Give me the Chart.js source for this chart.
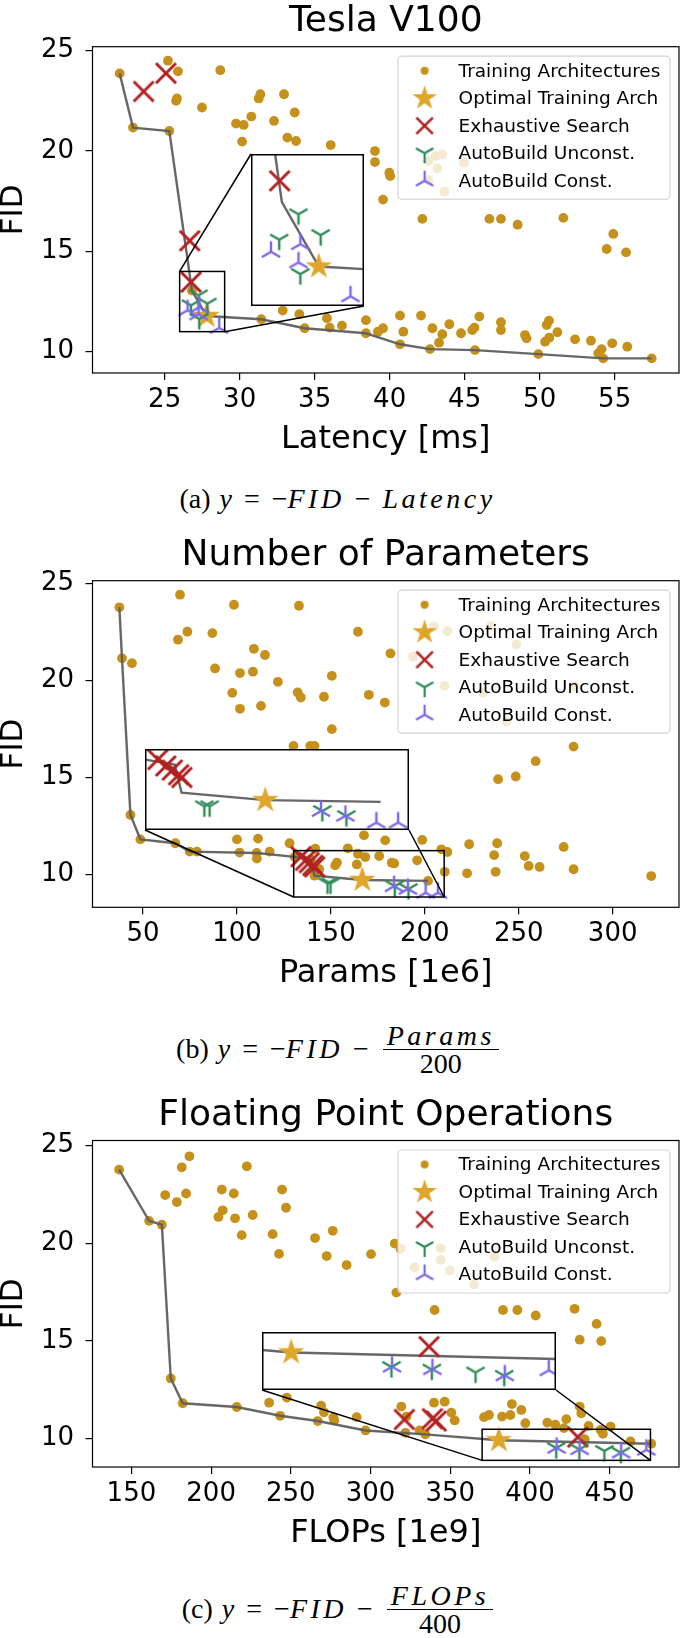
<!DOCTYPE html>
<html>
<head>
<meta charset="utf-8">
<script src="https://cdn.jsdelivr.net/npm/chart.js@4.4.1/dist/chart.umd.min.js"></script>
<style>
  body { margin: 0; background: #fff; width: 681px; height: 1638px; position: relative; overflow: hidden; }
  canvas { position: absolute; left: 0; }
  .cap { position: absolute; left: -3px; width: 681px; display: flex; justify-content: center; align-items: center;
         font-family: "Liberation Serif"; font-size: 28px; line-height: 30px; color: #000; }
  .cap i { font-style: italic; }
  .w { letter-spacing: 3.5px; }
  .lbl { margin-right: 9px; }
  .rel { margin: 0 12px; }
  .bin { margin: 0 12px 0 10px; }
  .frac { display: inline-flex; flex-direction: column; align-items: center; margin-left: 2px; }
  .num { border-bottom: 1.3px solid #000; padding: 0 4px; line-height: 27px; }
  .den { line-height: 27px; }
</style>
</head>
<body>
<canvas id="c1" width="681" height="455" style="top:0px"></canvas>
<canvas id="c2" width="681" height="469" style="top:520px"></canvas>
<canvas id="c3" width="681" height="469" style="top:1080px"></canvas>

<div class="cap" style="top:484px;height:30px">
  <span class="lbl">(a)</span><i>y</i><span class="rel">=</span><span>−</span><i class="w">FID</i><span class="bin">−</span><i class="w">Latency</i>
</div>
<div class="cap" style="top:1021px;height:56px">
  <span class="lbl">(b)</span><i>y</i><span class="rel">=</span><span>−</span><i class="w">FID</i><span class="bin">−</span>
  <span class="frac"><span class="num"><i class="w">Params</i></span><span class="den">200</span></span>
</div>
<div class="cap" style="top:1581px;height:56px">
  <span class="lbl">(c)</span><i>y</i><span class="rel">=</span><span>−</span><i class="w">FID</i><span class="bin">−</span>
  <span class="frac"><span class="num"><i class="w">FLOPs</i></span><span class="den">400</span></span>
</div>

<script>
// ------------------------
// Data
// ------------------------

const fidTicks = [10, 15, 20, 25];

// Tesla V100: latency [ms] vs FID
const latencyTicks = [25, 30, 35, 40, 45, 50, 55];
const latencyArchs = [
  [22.0, 23.87], [22.89, 21.17], [25.31, 21.0], [25.22, 24.5], [25.89, 23.97], [28.71, 24.03], [25.82, 22.62],
  [25.76, 22.5], [27.49, 22.17], [31.38, 22.83], [31.27, 22.62], [32.96, 22.83], [33.67, 21.92], [30.78, 21.72],
  [29.76, 21.37], [30.27, 21.3], [32.29, 21.5], [30.16, 20.47], [33.18, 20.67], [33.76, 20.5], [36.07, 20.3],
  [39.02, 20.0], [39.02, 19.45], [39.98, 18.92], [40.04, 18.75], [39.56, 17.58],
  [42.58, 19.5], [43.07, 19.75], [43.51, 19.83], [43.18, 19.13], [44.96, 19.42], [42.58, 18.55], [43.65, 17.98],
  [42.18, 16.62], [46.65, 16.62], [47.42, 16.62], [48.53, 16.33], [51.58, 16.67], [54.91, 15.87], [54.47, 15.12],
  [55.76, 14.95],
  [26.82, 13.05], [27.8, 11.78], [31.44, 11.62], [32.87, 12.05], [33.98, 11.87], [34.33, 11.17], [35.82, 11.67],
  [36.0, 11.2], [36.82, 11.3], [38.42, 11.57], [38.42, 10.92], [39.22, 11.0], [39.56, 11.17],
  [40.69, 11.8], [40.91, 11.0], [40.69, 10.37], [42.09, 11.8], [42.85, 11.17], [42.69, 10.13], [43.29, 10.45],
  [43.51, 10.87], [43.98, 11.37], [44.76, 10.92], [45.51, 11.08], [45.65, 11.2], [45.98, 11.75], [45.69, 10.08],
  [47.42, 11.47], [47.42, 11.08], [49.02, 10.83], [49.13, 10.67], [49.91, 9.88], [50.36, 10.5], [50.64, 10.7],
  [50.47, 11.33], [50.62, 11.55], [51.18, 10.97], [52.36, 10.62], [53.42, 10.55], [54.13, 10.13], [53.91, 9.92],
  [54.24, 9.67], [54.84, 10.42], [55.84, 10.25], [57.47, 9.67]
];
const latencyPareto = [
  [22.0, 23.87], [22.89, 21.17], [25.31, 21.0], [26.82, 13.05], [27.8, 11.78], [31.44, 11.62], [34.33, 11.17],
  [38.42, 10.92], [40.69, 10.37], [42.69, 10.13], [45.69, 10.08], [49.91, 9.88], [54.24, 9.67], [57.47, 9.67]
];
const latencyOptimal = [[27.8, 11.78]];
const latencyExhaustive = [[23.6, 22.97], [25.09, 23.88], [26.67, 15.53], [26.76, 13.47]];
const latencyUnconst = [[27.26, 12.81], [26.75, 12.31], [27.85, 12.4], [27.31, 11.63]];
const latencyConst = [[26.53, 12.07], [27.31, 12.22], [27.26, 11.86], [28.64, 11.19]];

// Number of parameters [1e6] vs FID
const paramsTicks = [50, 100, 150, 200, 250, 300];
const paramsArchs = [
  [37.4, 23.78], [38.8, 21.15], [44.1, 20.9], [43.3, 13.08], [48.6, 11.82], [67.2, 11.62], [74.8, 11.19], [78.7, 11.19],
  [69.7, 24.43], [98.4, 23.91], [133.0, 23.86], [73.6, 22.52], [68.6, 22.11], [86.9, 22.45], [164.4, 22.52],
  [109.0, 21.64], [114.9, 21.32], [181.7, 21.4], [88.3, 20.63], [101.6, 20.39], [108.5, 20.46], [150.5, 20.25],
  [121.8, 19.94], [97.5, 19.37], [132.3, 19.39], [134.0, 19.13], [146.3, 19.17], [170.2, 19.27], [178.7, 18.87],
  [101.6, 18.55], [112.8, 18.7], [150.5, 17.5], [130.1, 16.64], [139.0, 16.64], [141.3, 16.64],
  [204.9, 22.8], [212.1, 22.55], [235.2, 22.82], [248.8, 21.87], [193.7, 21.23], [210.5, 19.73], [230.8, 19.38],
  [280.0, 19.7], [243.4, 17.9], [279.2, 16.6], [259.0, 15.85], [248.4, 15.06], [239.0, 14.92],
  [100.0, 11.82], [111.2, 11.86], [101.4, 11.14], [110.5, 11.12], [110.6, 10.83], [117.4, 11.19], [128.0, 11.62],
  [130.7, 10.92], [141.7, 11.34], [153.2, 10.62], [152.3, 10.48], [159.0, 11.36], [143.8, 10.28], [141.3, 9.95],
  [139.2, 10.78], [166.7, 9.73], [167.6, 12.03], [164.4, 11.08], [168.3, 10.91], [163.8, 10.53], [175.7, 10.96],
  [178.9, 11.77], [182.4, 10.62], [198.6, 11.79], [208.8, 11.31], [212.0, 11.17], [223.6, 11.57], [238.5, 11.62],
  [236.9, 11.01], [253.2, 10.96], [273.9, 11.43], [183.7, 10.58], [195.9, 10.74], [210.6, 10.15], [222.5, 10.07],
  [237.7, 10.15], [255.3, 10.45], [261.1, 10.4], [279.2, 10.28], [320.5, 9.93], [201.7, 9.68]
];
const paramsPareto = [
  [37.4, 23.78], [38.8, 21.15], [43.3, 13.08], [48.6, 11.82], [67.2, 11.62], [74.8, 11.19], [110.5, 11.12],
  [130.7, 10.92], [139.2, 10.78], [141.3, 9.95], [166.7, 9.73], [201.7, 9.68]
];
const paramsOptimal = [[166.7, 9.73]];
const paramsExhaustive = [[134.1, 10.93], [136.5, 10.74], [138.5, 10.62], [140.4, 10.48], [141.4, 10.4]];
const paramsUnconst = [[148.2, 9.55], [149.8, 9.55], [184.0, 9.41], [191.3, 9.26]];
const paramsConst = [[183.6, 9.41], [191.0, 9.27], [200.4, 9.07], [207.0, 9.07]];

// Floating point operations [1e9] vs FID
const flopsTicks = [150, 200, 250, 300, 350, 400, 450];
const flopsArchs = [
  [142.3, 23.76], [161.1, 21.14], [169.1, 20.94], [174.7, 13.08], [182.2, 11.81], [216.1, 11.62],
  [186.4, 24.44], [181.6, 23.88], [222.4, 23.93], [171.2, 22.46], [178.5, 22.1], [184.3, 22.54], [206.7, 22.74],
  [214.2, 22.54], [244.5, 22.74], [247.0, 21.81], [207.3, 21.68], [204.6, 21.34], [215.0, 21.27], [226.1, 21.44],
  [219.2, 20.41], [238.6, 20.46], [265.2, 20.26], [276.3, 20.63], [242.6, 19.45], [272.5, 19.34], [285.0, 18.88],
  [300.3, 19.44], [315.2, 19.98], [318.9, 19.7], [327.7, 18.77], [344.0, 19.75], [344.0, 19.14], [349.7, 18.6],
  [364.9, 17.88], [377.9, 19.31], [316.2, 17.47], [340.2, 16.58], [383.1, 16.58], [392.1, 16.58], [403.6, 16.3],
  [428.0, 16.64], [441.8, 15.87], [431.2, 15.06], [444.7, 14.99],
  [236.4, 11.84], [247.5, 12.1], [243.3, 11.17], [269.0, 11.69], [270.8, 11.35], [276.7, 11.08], [277.3, 10.93],
  [266.9, 10.9], [291.3, 11.1], [296.9, 10.42], [319.3, 11.64], [322.5, 11.13], [321.9, 10.3], [330.8, 10.42],
  [334.4, 10.22], [339.8, 11.84], [346.5, 11.89], [350.7, 11.33], [352.8, 10.93], [371.2, 11.1], [374.3, 11.21],
  [382.5, 11.13], [387.7, 11.21], [388.7, 11.77], [394.6, 11.47], [397.1, 10.79], [410.9, 10.82], [415.9, 10.71],
  [422.8, 11.0], [431.2, 11.64], [432.2, 11.3], [421.3, 10.54], [436.8, 10.65], [444.3, 10.45], [445.8, 10.25],
  [450.6, 10.62], [434.3, 9.97], [463.1, 9.86], [476.1, 9.74], [380.5, 9.92]
];
const flopsPareto = [
  [142.3, 23.76], [161.1, 21.14], [169.1, 20.94], [174.7, 13.08], [182.2, 11.81], [216.1, 11.62], [243.3, 11.17],
  [266.9, 10.9], [296.9, 10.42], [334.4, 10.22], [380.5, 9.92], [476.1, 9.74]
];
const flopsOptimal = [[380.5, 9.92]];
const flopsExhaustive = [[321.2, 10.98], [338.8, 11.02], [341.2, 10.9], [430.0, 10.08]];
const flopsUnconst = [[416.5, 9.52], [431.0, 9.45], [446.7, 9.37], [457.0, 9.28]];
const flopsConst = [[416.7, 9.53], [431.2, 9.46], [457.2, 9.29], [473.0, 9.43]];

// ------------------------
// Styles
// ------------------------

const dotColor = '#c5911b';
const starColor = '#dea62b';
const redColor = '#b22222';
const greenColor = '#2e8b57';
const purpleColor = '#7b68ee';
const lineColor = 'rgba(95,95,95,0.95)';

Chart.defaults.font.family = '"DejaVu Sans"';
Chart.defaults.color = '#000';

// Marker pictures (matplotlib '*', 'x', '1', '2')
function makeMarker(kind, color, r, lw) {
  const half = Math.ceil(r + lw + 2);
  const c = document.createElement('canvas');
  c.width = c.height = half * 2;
  const g = c.getContext('2d');
  g.translate(half, half);
  g.strokeStyle = color;
  g.fillStyle = color;
  g.lineWidth = lw;
  g.lineCap = 'butt';
  g.beginPath();
  if (kind === 'star') {
    for (let i = 0; i < 10; i++) {
      const rad = i % 2 ? r * 0.382 : r;
      const a = -Math.PI / 2 + i * Math.PI / 5;
      g.lineTo(Math.cos(a) * rad, Math.sin(a) * rad);
    }
    g.closePath();
    g.fill();
    return c;
  }
  if (kind === 'dot') {
    g.arc(0, 0, r, 0, Math.PI * 2);
    g.fill();
    return c;
  }
  if (kind === 'x') {
    g.moveTo(-r, -r); g.lineTo(r, r);
    g.moveTo(-r, r); g.lineTo(r, -r);
  } else {
    const s = kind === 'triDown' ? 1 : -1;
    g.moveTo(0, 0); g.lineTo(0, s * r);
    g.moveTo(0, 0); g.lineTo(-0.866 * r, -s * 0.5 * r);
    g.moveTo(0, 0); g.lineTo(0.866 * r, -s * 0.5 * r);
  }
  g.stroke();
  return c;
}

const starImg = makeMarker('star', starColor, 14, 0);
const crossImg = makeMarker('x', redColor, 10, 3);
const triDownImg = makeMarker('triDown', greenColor, 10.5, 2.4);
const triUpImg = makeMarker('triUp', purpleColor, 10.5, 2.4);

const legendItems = [
  { label: 'Training Architectures', img: makeMarker('dot', dotColor, 4, 0) },
  { label: 'Optimal Training Arch', img: makeMarker('star', starColor, 13, 0) },
  { label: 'Exhaustive Search', img: makeMarker('x', redColor, 8.2, 2.6) },
  { label: 'AutoBuild Unconst.', img: makeMarker('triDown', greenColor, 10, 2.2) },
  { label: 'AutoBuild Const.', img: makeMarker('triUp', purpleColor, 10, 2.2) }
];

// ------------------------
// Panels
// ------------------------

const panels = [
  {
    id: 'c1', top: 0, height: 455, axesTop: 46.7, axesBottom: 373,
    title: 'Tesla V100', xLabel: 'Latency [ms]',
    xRange: [20.19, 59.29], yRange: [8.94, 25.2], xTicks: latencyTicks,
    archs: latencyArchs, pareto: latencyPareto, optimal: latencyOptimal,
    exhaustive: latencyExhaustive, unconst: latencyUnconst, constr: latencyConst,
    zoom: { x: [26, 29], y: [11, 14] },
    inset: { x: [30.77, 38.27], y: [12.29, 19.84] },
    links: [['tl', 'tl'], ['br', 'br']]
  },
  {
    id: 'c2', top: 520, height: 469, axesTop: 60.7, axesBottom: 387.3,
    title: 'Number of Parameters', xLabel: 'Params [1e6]',
    xRange: [23.1, 335.3], yRange: [8.32, 25.15], xTicks: paramsTicks,
    archs: paramsArchs, pareto: paramsPareto, optimal: paramsOptimal,
    exhaustive: paramsExhaustive, unconst: paramsUnconst, constr: paramsConst,
    zoom: { x: [130.2, 210.3], y: [8.85, 11.24] },
    inset: { x: [51.1, 191.7], y: [12.3, 16.48] },
    links: [['bl', 'bl'], ['br', 'br']]
  },
  {
    id: 'c3', top: 1080, height: 469, axesTop: 60.5, axesBottom: 387,
    title: 'Floating Point Operations', xLabel: 'FLOPs [1e9]',
    xRange: [125.6, 493.5], yRange: [8.55, 25.25], xTicks: flopsTicks,
    archs: flopsArchs, pareto: flopsPareto, optimal: flopsOptimal,
    exhaustive: flopsExhaustive, unconst: flopsUnconst, constr: flopsConst,
    zoom: { x: [370, 475.6], y: [8.89, 10.48] },
    inset: { x: [232.1, 416.1], y: [12.47, 15.43] },
    links: [['bl', 'bl'], ['br', 'br']]
  }
];

function makeDatasets(p, withArchs) {
  const sets = [
    { label: 'Pareto', data: p.pareto, showLine: true, pointRadius: 0, borderColor: lineColor, borderWidth: 2.4, order: 5 },
    { label: 'Optimal Training Arch', data: p.optimal, pointStyle: starImg, pointRadius: 12, order: 4 },
    { label: 'Exhaustive Search', data: p.exhaustive, pointStyle: crossImg, pointRadius: 11, order: 3 },
    { label: 'AutoBuild Unconst.', data: p.unconst, pointStyle: triDownImg, pointRadius: 11, order: 2 },
    { label: 'AutoBuild Const.', data: p.constr, pointStyle: triUpImg, pointRadius: 11, order: 1 }
  ];
  if (withArchs) {
    sets.unshift({
      label: 'Training Architectures', data: p.archs, pointStyle: 'circle', pointRadius: 4.9,
      backgroundColor: dotColor, pointBorderWidth: 0, order: 6
    });
  }
  return sets;
}

function boxPx(chart, rect, round) {
  const xs = chart.scales.x, ys = chart.scales.y;
  const b = {
    l: xs.getPixelForValue(rect.x[0]), r: xs.getPixelForValue(rect.x[1]),
    t: ys.getPixelForValue(rect.y[1]), b: ys.getPixelForValue(rect.y[0])
  };
  if (round) Object.keys(b).forEach(k => { b[k] = Math.round(b[k]); });
  return b;
}

function corner(b, which) {
  return [which[1] === 'l' ? b.l : b.r, which[0] === 't' ? b.t : b.b];
}

function drawLegend(ctx, area) {
  const w = 272, h = 143;
  const x = area.right - 9 - w, y = area.top + 9.5;
  const r = 4;
  ctx.save();
  ctx.beginPath();
  ctx.moveTo(x + r, y);
  ctx.arcTo(x + w, y, x + w, y + h, r);
  ctx.arcTo(x + w, y + h, x, y + h, r);
  ctx.arcTo(x, y + h, x, y, r);
  ctx.arcTo(x, y, x + w, y, r);
  ctx.closePath();
  ctx.fillStyle = 'rgba(255,255,255,0.8)';
  ctx.fill();
  ctx.strokeStyle = '#d3d3d3';
  ctx.lineWidth = 1.2;
  ctx.stroke();
  ctx.font = '18.5px "DejaVu Sans"';
  ctx.fillStyle = '#000';
  ctx.textBaseline = 'middle';
  ctx.textAlign = 'left';
  legendItems.forEach((item, i) => {
    const cy = y + 14.5 + i * 27.5;
    const img = item.img;
    ctx.drawImage(img, x + 26.6 - img.width / 2, cy - img.height / 2);
    ctx.fillText(item.label, x + 60.6, cy + 1);
  });
  ctx.restore();
}

function makePanelPlugin(p) {
  return {
    id: 'panel',
    afterDatasetsDraw(chart) {
      const ctx = chart.ctx;
      const src = boxPx(chart, p.zoom, false);
      const ins = boxPx(chart, p.inset, true);
      ctx.save();
      ctx.strokeStyle = '#000';
      ctx.lineWidth = 1.5;
      ctx.strokeRect(src.l, src.t, src.r - src.l, src.b - src.t);
      ctx.beginPath();
      p.links.forEach(([a, b]) => {
        const s = corner(src, a), e = corner(ins, b);
        ctx.moveTo(s[0], s[1]);
        ctx.lineTo(e[0], e[1]);
      });
      ctx.stroke();
      ctx.restore();
    },
    afterDraw(chart) {
      const ctx = chart.ctx;
      const area = chart.chartArea;
      ctx.save();
      ctx.strokeStyle = '#000';
      ctx.lineWidth = 1.2;
      ctx.strokeRect(area.left, area.top, area.right - area.left, area.bottom - area.top);
      ctx.font = '36px "DejaVu Sans"';
      ctx.fillStyle = '#000';
      ctx.textAlign = 'center';
      ctx.textBaseline = 'alphabetic';
      ctx.fillText(p.title, (area.left + area.right) / 2, area.top - 15.3);
      ctx.restore();
      drawLegend(ctx, area);
    }
  };
}

const insetPlugin = {
  id: 'insetFrame',
  beforeDraw(chart) {
    const ctx = chart.ctx;
    ctx.save();
    ctx.fillStyle = '#fff';
    ctx.fillRect(0, 0, chart.width, chart.height);
    ctx.restore();
  },
  afterDraw(chart) {
    const ctx = chart.ctx;
    ctx.save();
    ctx.strokeStyle = '#000';
    ctx.lineWidth = 1.5;
    ctx.strokeRect(0.75, 0.75, chart.width - 1.5, chart.height - 1.5);
    ctx.restore();
  }
};

function buildPanel(p) {
  const main = new Chart(document.getElementById(p.id), {
    type: 'scatter',
    data: { datasets: makeDatasets(p, true) },
    options: {
      responsive: false,
      animation: false,
      devicePixelRatio: 1,
      events: [],
      layout: { autoPadding: false, padding: { left: 0, right: 2, top: p.axesTop, bottom: 0 } },
      plugins: { legend: { display: false }, tooltip: { enabled: false } },
      scales: {
        x: {
          type: 'linear', min: p.xRange[0], max: p.xRange[1],
          afterBuildTicks: s => { s.ticks = p.xTicks.map(v => ({ value: v })); },
          afterFit: s => { s.height = p.height - p.axesBottom; s.paddingLeft = 0; s.paddingRight = 0; },
          ticks: { font: { size: 26 }, color: '#000', padding: 4.7, autoSkip: false, maxRotation: 0 },
          grid: { drawOnChartArea: false, color: '#000', lineWidth: 1.2, tickLength: 7 },
          border: { display: false },
          title: { display: true, text: p.xLabel, color: '#000', font: { size: 32, lineHeight: 1 }, padding: { top: 0, bottom: -1 } }
        },
        y: {
          type: 'linear', min: p.yRange[0], max: p.yRange[1],
          afterBuildTicks: s => { s.ticks = fidTicks.map(v => ({ value: v })); },
          afterFit: s => { s.width = 92.5; s.paddingTop = 0; s.paddingBottom = 0; },
          ticks: { font: { size: 26 }, color: '#000', padding: 11.5 },
          grid: { drawOnChartArea: false, color: '#000', lineWidth: 1.2, tickLength: 7 },
          border: { display: false },
          title: { display: true, text: 'FID', color: '#000', font: { size: 31, lineHeight: 0.87 }, padding: 0 }
        }
      }
    },
    plugins: [makePanelPlugin(p)]
  });

  // Inset: zoomed copy of the small box, drawn by a second chart
  const ins = boxPx(main, p.inset, true);
  const cv = document.createElement('canvas');
  cv.width = ins.r - ins.l;
  cv.height = ins.b - ins.t;
  cv.style.left = ins.l + 'px';
  cv.style.top = (p.top + ins.t) + 'px';
  document.body.appendChild(cv);
  new Chart(cv, {
    type: 'scatter',
    data: { datasets: makeDatasets(p, false) },
    options: {
      responsive: false,
      animation: false,
      devicePixelRatio: 1,
      events: [],
      layout: { autoPadding: false, padding: 0 },
      plugins: { legend: { display: false }, tooltip: { enabled: false } },
      scales: {
        x: { type: 'linear', display: false, min: p.zoom.x[0], max: p.zoom.x[1] },
        y: { type: 'linear', display: false, min: p.zoom.y[0], max: p.zoom.y[1] }
      }
    },
    plugins: [insetPlugin]
  });
}

// ------------------------
// Init
// ------------------------

panels.forEach(buildPanel);
</script>
</body>
</html>
